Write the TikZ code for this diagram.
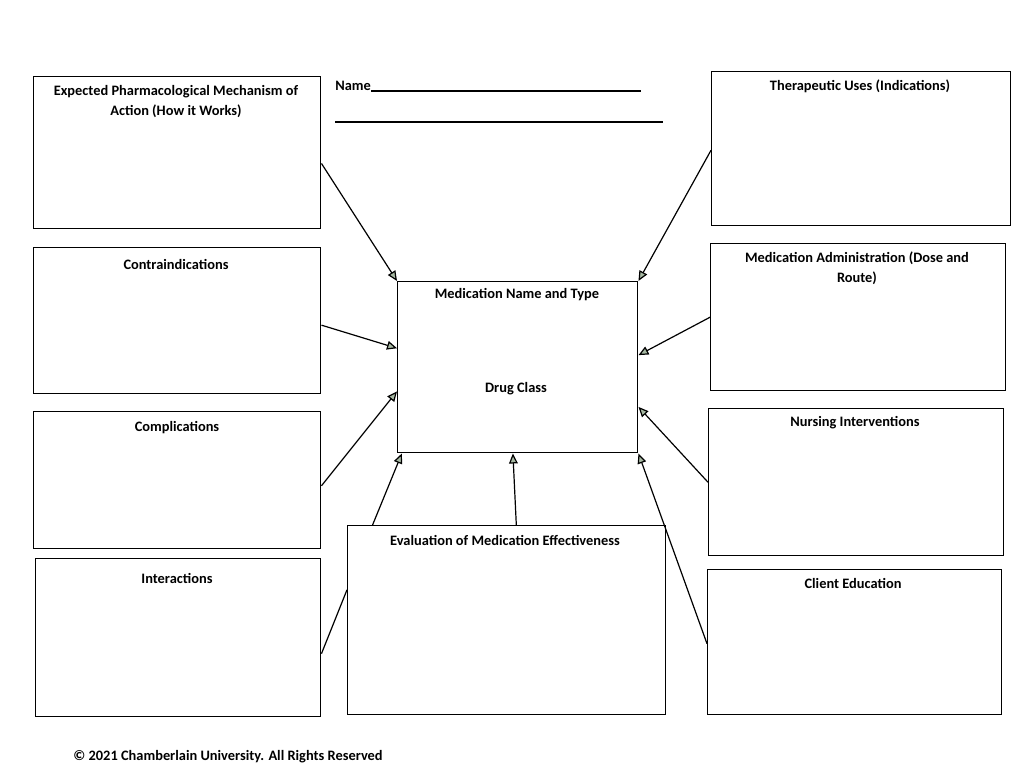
\documentclass[tikz,border=0pt]{standalone}
\usepackage{fontspec}
\setmainfont{Carlito}
\usepackage{tikz}
\usetikzlibrary{arrows.meta,calc}
\definecolor{tipfill}{RGB}{166,184,162}

\begin{document}
\begin{tikzpicture}[x=0.75pt,y=-0.75pt,
  box/.style 2 args={draw,line width=1.1pt,anchor=north west,inner sep=0pt,
    minimum width=#1*0.75pt,minimum height=#2*0.75pt},
  title/.style={font=\fontsize{10.8}{15}\selectfont\bfseries,align=center,inner sep=0pt},
  link/.style={line width=0.9pt,-{Triangle[length=7.5pt,width=6.5pt,fill=tipfill]}}]
\useasboundingbox (0,0) rectangle (1016,770);

% left column
\node[box={287}{152}] (mech) at (33,76) {};
\node[box={287}{146}] (contra) at (33,247) {};
\node[box={287}{137}] (compl) at (33,411) {};
\node[box={285}{158}] (inter) at (35,558) {};

% middle
\node[box={240}{171}] (med) at (397,281) {};
\node[box={318}{189}] (eval) at (347,525) {};

% right column
\node[box={299}{154}] (ther) at (711,71) {};
\node[box={295}{147}] (admin) at (710,243) {};
\node[box={295}{147}] (nurs) at (708,408) {};
\node[box={294}{145}] (client) at (707,569) {};

% titles
\node[title] (mechT) at (176,102) {Expected Pharmacological Mechanism of\\Action (How it Works)};
\node[title] (contraT) at (176,264) {Contraindications};
\node[title] (complT) at (177,428) {Complications};
\node[title] (interT) at (177,578) {Interactions};
\node[title] (medT) at (517,295) {Medication Name and Type};
\node[title] (drugT) at (516,389) {Drug Class};
\node[title] (evalT) at (505,540) {Evaluation of Medication Effectiveness};
\node[title] (therT) at (860,86) {Therapeutic Uses (Indications)};
\node[title] (adminT) at (857,268) {Medication Administration (Dose and\\Route)};
\node[title] (nursT) at (855,423) {Nursing Interventions};
\node[title] (clientT) at (853,583) {Client Education};

% name lines
\node[title,anchor=base west] (name) at (335,91) {Name};
\draw[line width=0.8pt] (name.base east) -- (641,91);
\draw[line width=0.8pt] (335,122) -- (663,122);

\node[title] (copy) at (228,757) {\textcopyright{} 2021 Chamberlain University. All Rights Reserved};

% connectors
\draw[link] ($(mech.north east)!0.57!(mech.south east)$) -- (med.north west);
\draw[link] ($(contra.north east)!0.53!(contra.south east)$) -- ($(med.north west)!0.39!(med.south west)$);
\draw[link] ($(compl.north east)!0.54!(compl.south east)$) -- ($(med.north west)!0.64!(med.south west)$);
\draw[line width=0.9pt] ($(inter.north east)!0.60!(inter.south east)$) -- ($(eval.north west)!0.34!(eval.south west)$);
\draw[link] ($(eval.north west)!0.08!(eval.north east)$) -- ($(med.south west)!0.02!(med.south east)$);
\draw[link] ($(eval.north west)!0.53!(eval.north east)$) -- ($(med.south west)!0.48!(med.south east)$);
\draw[link] ($(ther.north west)!0.51!(ther.south west)$) -- (med.north east);
\draw[link] ($(admin.north west)!0.50!(admin.south west)$) -- ($(med.north east)!0.43!(med.south east)$);
\draw[link] ($(nurs.north west)!0.50!(nurs.south west)$) -- ($(med.north east)!0.73!(med.south east)$);
\draw[link] ($(client.north west)!0.51!(client.south west)$) -- (med.south east);

\end{tikzpicture}
\end{document}
